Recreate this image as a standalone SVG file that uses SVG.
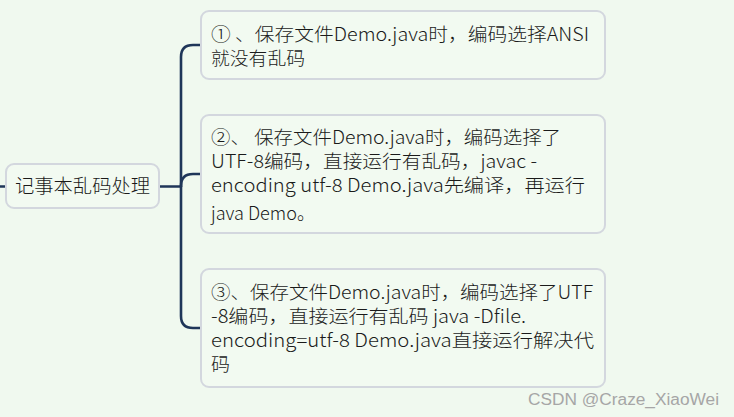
<svg xmlns="http://www.w3.org/2000/svg" width="734" height="417" viewBox="0 0 734 417">
<style>
.bg{fill:#f0f9ef}
.box{fill:#f2faf1;stroke:#d3d7de;stroke-width:2}
.t{font-family:"Noto Sans CJK SC","Microsoft YaHei",sans-serif;font-size:18.5px;font-weight:300;fill:#1a1a1a}
.rt{font-family:"Noto Sans CJK SC","Microsoft YaHei",sans-serif;font-size:19px;font-weight:300;fill:#1a1a1a}
.c{fill:none;stroke:#1f3659;stroke-width:2.6;stroke-linecap:round}
.wm{font-family:"Liberation Sans",Arial,sans-serif;font-size:16px;fill:#a6a6a6}
</style>
<rect class="bg" x="0" y="0" width="734" height="417"/>
<g id="connectors">
<path class="c" d="M-2,186.5 L6,186.5"/>
<path class="c" d="M159,186.5 L181,186.5"/>
<path class="c" d="M201,45 L193,45 Q181,45 181,57 L181,316 Q181,328 193,328 L201,328"/>
<path class="c" d="M181,186 Q181,174 193,174 L201,174"/>
</g>
<g id="root">
<rect class="box" x="6" y="164" width="153" height="44" rx="8"/>
<text class="rt" x="15" y="193" textLength="135" lengthAdjust="spacingAndGlyphs">记事本乱码处理</text>
</g>
<g id="node1">
<rect class="box" x="201" y="11" width="404" height="68" rx="8"/>
<text class="t" x="211" y="41" textLength="378" lengthAdjust="spacingAndGlyphs">① 、保存文件Demo.java时，编码选择ANSI</text>
<text class="t" x="211" y="65" textLength="94" lengthAdjust="spacingAndGlyphs">就没有乱码</text>
</g>
<g id="node2">
<rect class="box" x="201" y="115" width="404" height="118" rx="8"/>
<text class="t" x="211" y="144" textLength="350" lengthAdjust="spacingAndGlyphs">②、 保存文件Demo.java时，编码选择了</text>
<text class="t" x="211" y="168" textLength="326" lengthAdjust="spacingAndGlyphs">UTF-8编码，直接运行有乱码，javac -</text>
<text class="t" x="211" y="192" textLength="374" lengthAdjust="spacingAndGlyphs">encoding utf-8 Demo.java先编译，再运行</text>
<text class="t" x="211" y="220" textLength="104" lengthAdjust="spacingAndGlyphs">java Demo。</text>
</g>
<g id="node3">
<rect class="box" x="201" y="269" width="404" height="118" rx="8"/>
<text class="t" x="211" y="299" textLength="382" lengthAdjust="spacingAndGlyphs">③、保存文件Demo.java时，编码选择了UTF</text>
<text class="t" x="211" y="323" textLength="315" lengthAdjust="spacingAndGlyphs">-8编码，直接运行有乱码 java -Dfile.</text>
<text class="t" x="211" y="347" textLength="383" lengthAdjust="spacingAndGlyphs">encoding=utf-8 Demo.java直接运行解决代</text>
<text class="t" x="211" y="371" textLength="19" lengthAdjust="spacingAndGlyphs">码</text>
</g>
<text class="wm" x="528" y="405" textLength="191" lengthAdjust="spacingAndGlyphs">CSDN @Craze_XiaoWei</text>
</svg>
